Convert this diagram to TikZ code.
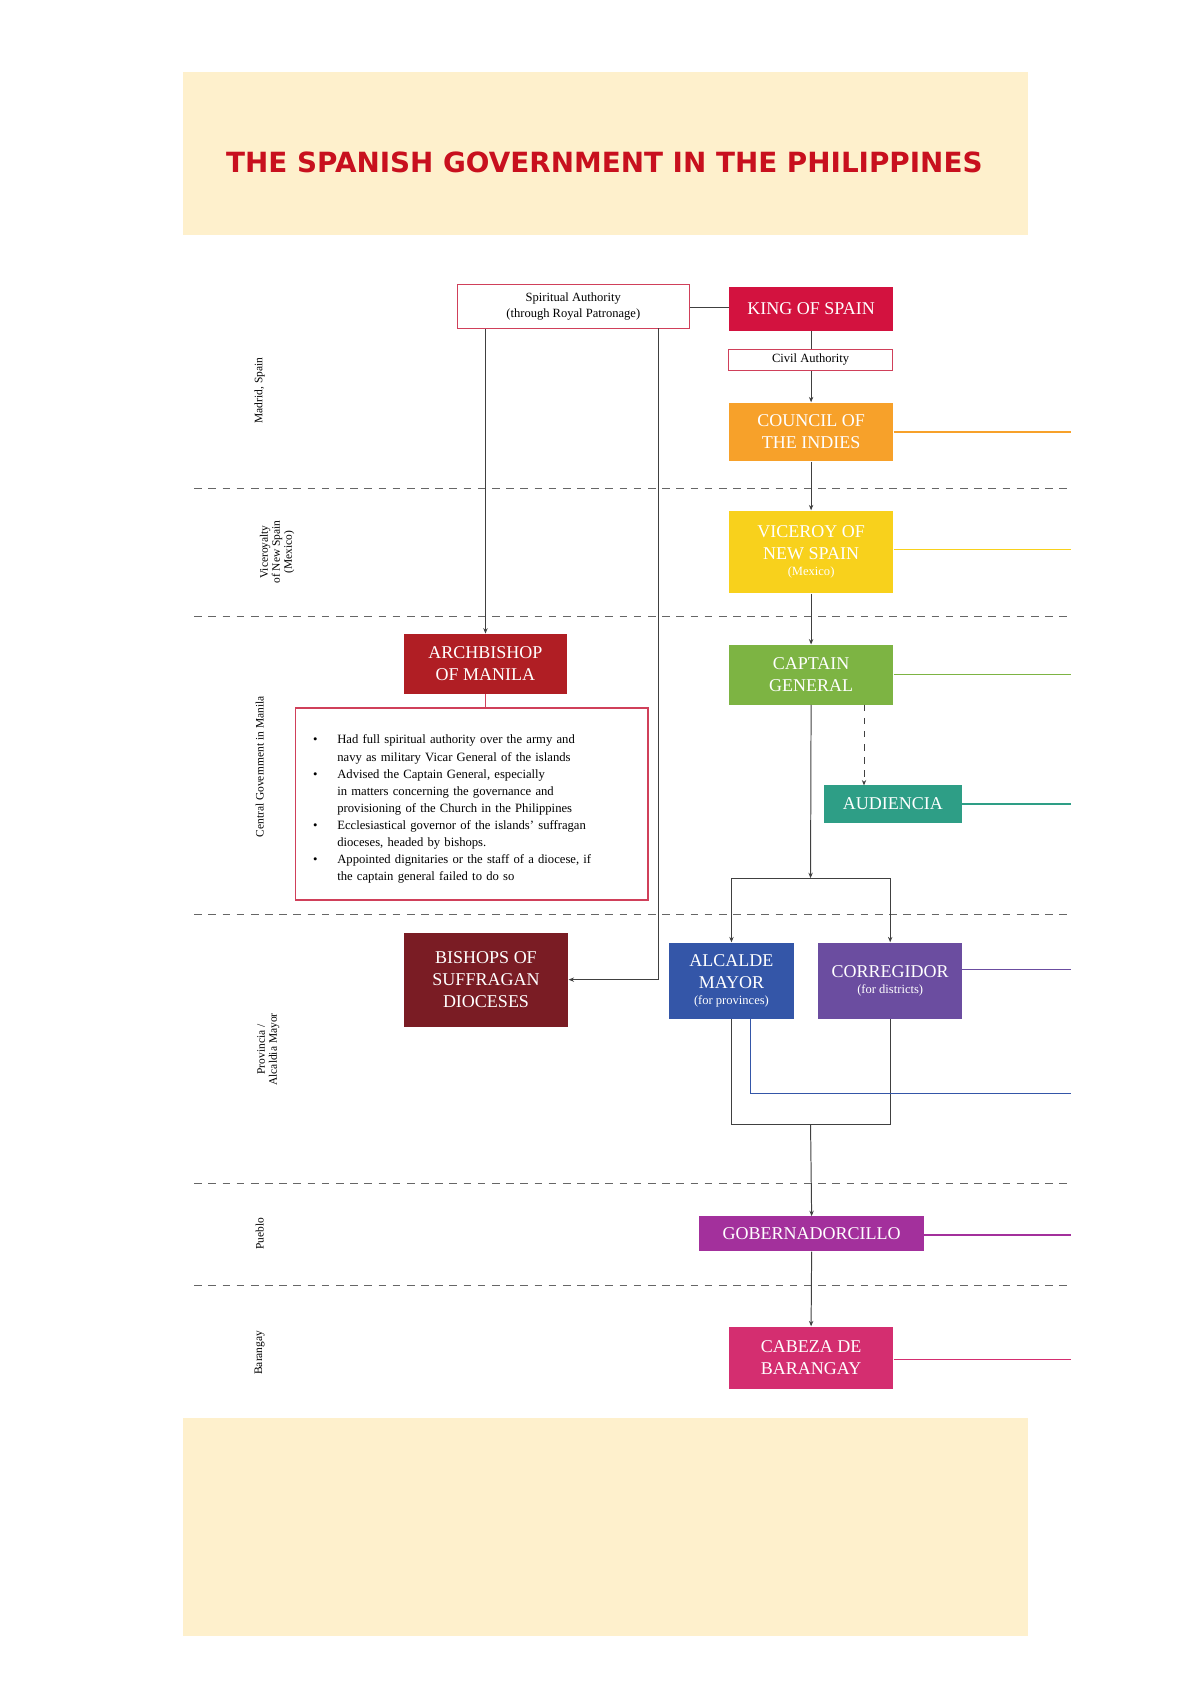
\documentclass[tikz,border=0pt]{standalone}
\usepackage{fontspec}
\setmainfont{Liberation Serif}
\newfontfamily\titlefont{DejaVu Sans}
\usetikzlibrary{arrows.meta}
\definecolor{band}{HTML}{FEF0CC}
\definecolor{ttl}{HTML}{C8101E}
\definecolor{bord}{HTML}{D0405A}
\definecolor{cking}{HTML}{D3123F}
\definecolor{ccoun}{HTML}{F7A12A}
\definecolor{cvice}{HTML}{F8D11C}
\definecolor{ccapt}{HTML}{7DB443}
\definecolor{caud}{HTML}{2E9E86}
\definecolor{carch}{HTML}{B01E24}
\definecolor{cbish}{HTML}{7A1C24}
\definecolor{calc}{HTML}{3456A8}
\definecolor{ccor}{HTML}{6B4DA0}
\definecolor{cgob}{HTML}{A3309C}
\definecolor{ccab}{HTML}{D42E70}
\tikzset{
 x=1pt,y=-1pt,
 cbox/.style={fill=#1,text=white,font=\fontsize{16.5}{20}\selectfont,align=center,inner sep=0pt},
 obox/.style={draw=bord,line width=1pt,fill=white,align=center,inner sep=0pt,font=\fontsize{11.5}{15}\selectfont},
 conn/.style={draw=black!75,line width=0.9pt},
 arr/.style={conn,-{Stealth[length=5pt,width=4pt]}},
 sep/.style={draw=black!60,line width=0.9pt,dash pattern=on 7pt off 6pt},
 side/.style={line width=1.1pt,draw=#1},
 lvl/.style={rotate=90,align=center,font=\fontsize{10.5}{11}\selectfont}
}
\begin{document}
\begin{tikzpicture}
\useasboundingbox (0,0) rectangle (1100,1556.5);
\fill[band] (168,66) rectangle (942,215);
\fill[band] (168,1300) rectangle (942,1500);
\node (title) at (554,149) {\titlefont\bfseries\fontsize{25.5}{26}\selectfont\color{ttl}THE SPANISH GOVERNMENT IN THE PHILIPPINES};
\foreach \yy in {448,565,838,1085,1178} \draw[sep] (178,\yy) -- (982,\yy);
\node[lvl] (l1) at (238,358) {Madrid, Spain};
\node[lvl] (l2) at (254,506) {Viceroyalty\\of New Spain\\(Mexico)};
\node[lvl] (l3) at (238,703) {Central Government in Manila};
\node[lvl] (l4) at (246,962) {Provincia /\\Alcaldia Mayor};
\node[lvl] (l5) at (238,1131) {Pueblo};
\node[lvl] (l6) at (238,1240) {Barangay};
\node[obox,minimum width=213,minimum height=41] (spir) at (525.5,281) {Spiritual Authority\\(through Royal Patronage)};
\node[cbox=cking,minimum width=151,minimum height=40] (king) at (743.5,283) {KING OF SPAIN};
\node[cbox=ccoun,minimum width=151,minimum height=54] (coun) at (743.5,396) {COUNCIL OF\\THE INDIES};
\node[cbox=cvice,minimum width=151,minimum height=76] (vice) at (743.5,506) {VICEROY OF\\NEW SPAIN\\[-5pt]{\fontsize{11.5}{12}\selectfont(Mexico)}};
\node[cbox=ccapt,minimum width=151,minimum height=55] (capt) at (743.5,618.5) {CAPTAIN\\GENERAL};
\node[cbox=caud,minimum width=127,minimum height=34] (aud) at (818.5,737) {AUDIENCIA};
\node[cbox=carch,minimum width=150,minimum height=55] (arch) at (445,608.5) {ARCHBISHOP\\OF MANILA};
\node[cbox=cbish,minimum width=151,minimum height=86] (bish) at (445.5,898) {BISHOPS OF\\SUFFRAGAN\\DIOCESES};
\node[cbox=calc,minimum width=115,minimum height=70] (alc) at (670.5,899) {ALCALDE\\MAYOR\\[-5pt]{\fontsize{11.5}{12}\selectfont(for provinces)}};
\node[cbox=ccor,minimum width=132,minimum height=70] (cor) at (816,899) {CORREGIDOR\\[-5pt]{\fontsize{11.5}{12}\selectfont(for districts)}};
\node[cbox=cgob,minimum width=206,minimum height=32] (gob) at (744,1131) {GOBERNADORCILLO};
\node[cbox=ccab,minimum width=151,minimum height=57] (cab) at (743.5,1244.5) {CABEZA DE\\BARANGAY};
% connectors
\coordinate (sk) at (650,282);
\draw[conn] (spir.east |- sk) -- (king.west |- sk);
\draw[arr] (king.south) -- (coun.north);
\node[obox,minimum width=150,minimum height=20] (civ) at (743,330) {Civil Authority};
\draw[arr] (coun.south) -- (vice.north);
\draw[arr] (vice.south) -- (capt.north);
\coordinate (d1) at (792,646);
\coordinate (d2) at (792,720);
\draw[arr,dash pattern=on 6pt off 6pt] (d1) -- (d2);
\coordinate (br) at (743,805);
\draw[arr] (capt.south) -- (br);
\draw[arr] (br) -| (alc.north);
\draw[arr] (br) -| (cor.north);
\draw[arr] (spir.south -| arch.north) -- (arch.north);
\coordinate (sp2) at (604,301);
\draw[arr] (sp2) |- (bish.east);
\node[draw=bord,line width=1pt,minimum width=323,minimum height=176,inner sep=0pt] (note) at (432.5,737) {};
\draw[draw=bord,line width=1pt] (arch.south) -- (arch.south |- note.north);
\node[anchor=north west,text width=300,font=\fontsize{11.6}{15.7}\selectfont,inner sep=0pt] (notetxt) at (281,666) {%
\begin{list}{\textbullet}{\leftmargin=28pt\labelsep=18pt\itemsep=0pt\parsep=0pt\topsep=0pt}
\item Had full spiritual authority over the army and\\navy as military Vicar General of the islands
\item Advised the Captain General, especially\\in matters concerning the governance and\\provisioning of the Church in the Philippines
\item Ecclesiastical governor of the islands' suffragan\\dioceses, headed by bishops.
\item Appointed dignitaries or the staff of a diocese, if\\the captain general failed to do so
\end{list}};
\coordinate (bl) at (743,1031);
\draw[conn] (alc.south) |- (bl) -| (cor.south);
\draw[arr] (bl) -- (gob.north);
\draw[arr] (gob.south) -- (cab.north);
% side lines
\coordinate (e1) at (982,396);
\draw[side=ccoun] (coun.east) -- (e1);
\coordinate (e2) at (982,504);
\draw[side=cvice] (vice.east |- e2) -- (e2);
\coordinate (e3) at (982,618.5);
\draw[side=ccapt] (capt.east) -- (e3);
\coordinate (e4) at (982,737);
\draw[side=caud] (aud.east) -- (e4);
\coordinate (e5) at (982,889);
\draw[side=ccor] (cor.east |- e5) -- (e5);
\coordinate (e6) at (982,1132);
\draw[side=cgob] (gob.east |- e6) -- (e6);
\coordinate (e7) at (982,1246);
\draw[side=ccab] (cab.east |- e7) -- (e7);
\coordinate (b1) at (688,1002);
\coordinate (b2) at (982,1002);
\draw[side=calc] (alc.south -| b1) -- (b1) -- (b2);
\end{tikzpicture}
\end{document}
